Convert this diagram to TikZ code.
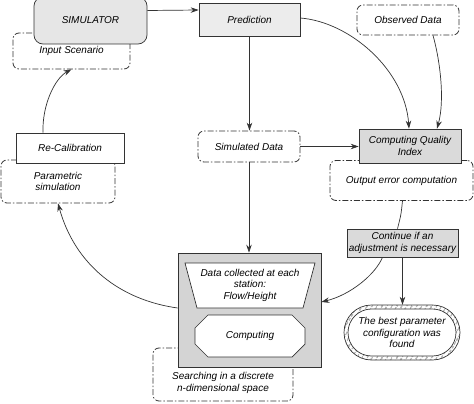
\documentclass[tikz,border=0pt]{standalone}
\usepackage{fontspec}
\setmainfont{Liberation Sans}
\usetikzlibrary{arrows.meta,shapes.misc,patterns.meta}
\definecolor{fillA}{HTML}{E6E6E6}
\definecolor{fillB}{HTML}{ECECEC}
\definecolor{fillC}{HTML}{DADADA}
\definecolor{fillD}{HTML}{D4D4D4}
\definecolor{lineC}{HTML}{333333}
\begin{document}
\begin{tikzpicture}[x=1pt,y=-1pt,
  font=\fontsize{10}{11.5}\selectfont\itshape,
  box/.style={draw=lineC, line width=0.7pt, align=center, inner sep=1pt},
  dd/.style={draw=lineC, line width=0.8pt, dash pattern=on 6pt off 2pt on 1.5pt off 2pt, rounded corners=6pt, align=center, inner sep=1pt},
  arr/.style={-{Stealth[length=8pt,width=5.5pt]}, line width=0.7pt, draw=lineC},
  ln/.style={line width=0.7pt, draw=lineC},
  txt/.style={align=center, inner sep=0pt}]
\useasboundingbox (0,0) rectangle (474,404);

% dash-dot boxes (behind)
\node[dd, minimum width=117pt, minimum height=36pt] (isc) at (71.5,51) {Input Scenario};
\node[dd, minimum width=114pt, minimum height=43pt] (par) at (58,181.5) {Parametric\\simulation};
\node[dd, minimum width=143pt, minimum height=40pt] (oec) at (401.5,180.5) {Output error computation};
\node[dd, minimum width=140pt, minimum height=53pt] (srch) at (223,374.5) {};
\node[txt] (srcht) at (223,383) {Searching in a discrete\\n-dimensional space};
\node[dd, minimum width=102pt, minimum height=30pt] (obs) at (408,20) {Observed Data};
\node[dd, minimum width=102pt, minimum height=31pt] (simd) at (249,146.5) {Simulated Data};

% solid boxes
\node[box, fill=fillA, rounded corners=9pt, minimum width=113pt, minimum height=47pt] (sim) at (90.5,20.5) {SIMULATOR};
\node[box, fill=fillB, minimum width=101pt, minimum height=33pt] (pred) at (249.5,20) {Prediction};
\node[box, fill=fillC, minimum width=102pt, minimum height=34pt] (cqi) at (410,146) {Computing Quality\\Index};
\node[box, fill=fillC, minimum width=111pt, minimum height=28pt] (cont) at (402.5,243) {Continue if an\\adjustment is necessary};
\node[box, fill=white, minimum width=108pt, minimum height=30pt] (recal) at (70,148) {Re-Calibration};
\node[box, fill=fillD, minimum width=143pt, minimum height=114pt] (big) at (249.5,310) {};

% inner shapes of the big box
\draw[ln, fill=white] (185,263) -- (315,263) -- (303,308) -- (197,308) -- cycle;
\node[txt] (datat) at (250,285) {Data collected at each\\station:\\Flow/Height};
\draw[ln, fill=white] (208,315) -- (292,315) -- (305,328) -- (305,344) -- (292,357) -- (208,357) -- (195,344) -- (195,328) -- cycle;
\node[txt] (compt) at (250,336) {Computing};

% hatched stadium
\path[draw=lineC, line width=0.7pt, even odd rule, pattern={Lines[angle=60,distance=4pt,line width=0.6pt]}, pattern color=lineC]
  [rounded corners=27.5pt] (344,305) rectangle (460,360)
  [rounded corners=23.5pt] (348,309) rectangle (456,356);
\node[txt, rounded rectangle, minimum width=116pt, minimum height=55pt] (best) at (402,332.5) {The best parameter\\configuration was\\found};

% connectors
\draw[arr] ([yshift=10pt]sim.east) -- ([yshift=10pt]pred.west);
\draw[arr] (pred.south) -- (pred.south |- simd.north);
\draw[arr] ([yshift=2pt]pred.east) .. controls (350,22) and (405,70) .. ([xshift=-1pt]cqi.north);
\draw[arr] ([xshift=25pt]obs.south) .. controls (440,60) and (445,100) .. ([xshift=27pt]cqi.north);
\draw[arr] (simd.east) -- (simd.east -| cqi.west);
\draw[arr] (simd.south) -- (simd.south |- big.north);
\draw[ln] ([xshift=1pt]oec.south) .. controls (401,215) .. ([xshift=-5pt]cont.north);
\draw[arr] (cont.south) -- (cont.south |- best.north);
\draw[arr] ([xshift=-20pt]cont.south) .. controls (375,275) and (350,295) .. ([yshift=8pt]big.east);
\draw[arr] ([yshift=2pt]big.west) .. controls (120,300) and (75,265) .. (par.south);
\draw[arr] ([xshift=-27pt]recal.north) .. controls (42,105) and (55,78) .. (isc.south);
\end{tikzpicture}
\end{document}
